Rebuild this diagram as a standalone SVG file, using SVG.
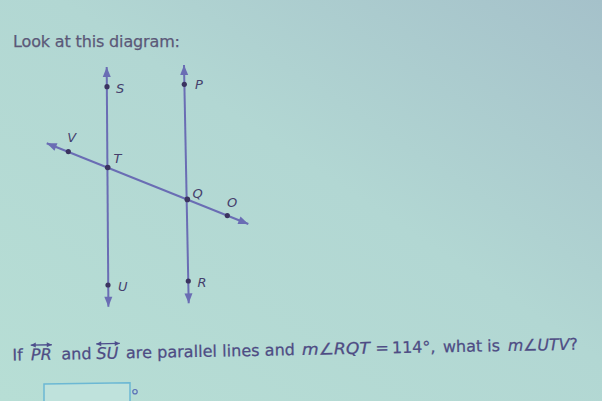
<svg xmlns="http://www.w3.org/2000/svg" width="602" height="401" viewBox="0 0 602 401">
<defs>
<linearGradient id="bg" x1="0" y1="1" x2="1" y2="0">
<stop offset="0" stop-color="#b7ded5"/>
<stop offset="0.55" stop-color="#b2d7d3"/>
<stop offset="1" stop-color="#a5c1ca"/>
</linearGradient>
<marker id="arrEnd" markerUnits="userSpaceOnUse" markerWidth="12" markerHeight="10" viewBox="0 0 12 10" refX="11" refY="5" orient="auto">
<path d="M1,1 L11,5 L1,9 z" fill="#6a6db4"/>
</marker>
<marker id="arrStart" markerUnits="userSpaceOnUse" markerWidth="12" markerHeight="10" viewBox="0 0 12 10" refX="1" refY="5" orient="auto">
<path d="M11,1 L1,5 L11,9 z" fill="#6a6db4"/>
</marker>
<marker id="smEnd" markerUnits="userSpaceOnUse" markerWidth="6" markerHeight="6" viewBox="0 0 6 6" refX="5.5" refY="3" orient="auto">
<path d="M0.5,0.5 L5.5,3 L0.5,5.5 z" fill="#4d4d8c"/>
</marker>
<marker id="smStart" markerUnits="userSpaceOnUse" markerWidth="6" markerHeight="6" viewBox="0 0 6 6" refX="0.5" refY="3" orient="auto">
<path d="M5.5,0.5 L0.5,3 L5.5,5.5 z" fill="#4d4d8c"/>
</marker>
</defs>
<style>
.line{stroke:#6a6db4;stroke-width:2;fill:none;marker-start:url(#arrStart);marker-end:url(#arrEnd)}
.dot{fill:#3b3360}
.lbl{font-family:"DejaVu Sans",sans-serif;font-style:italic;font-size:13px;fill:#453f6c}
.q{font-family:"DejaVu Sans",sans-serif;font-size:16px;fill:#4e4c84;stroke:#4e4c84;stroke-width:0.25}
.it{font-style:italic}
.over{stroke:#4d4d8c;stroke-width:1.3;marker-start:url(#smStart);marker-end:url(#smEnd)}
</style>
<rect width="602" height="401" fill="url(#bg)"/>
<g id="title">
<text x="13" y="46.5" font-family="DejaVu Sans, sans-serif" font-size="16" fill="#5b5878" stroke="#5b5878" stroke-width="0.25" textLength="167">Look at this diagram:</text>
</g>
<g id="connectors">
<line class="line" x1="106.7" y1="67" x2="108.4" y2="306.7"/>
<line class="line" x1="184" y1="65" x2="188.7" y2="303.3"/>
<line class="line" x1="46.7" y1="143.3" x2="248.3" y2="224"/>
</g>
<g id="S"><circle class="dot" cx="107" cy="86.7" r="2.6"/><text class="lbl" x="116" y="92.7">S</text></g>
<g id="P"><circle class="dot" cx="184.3" cy="84.3" r="2.6"/><text class="lbl" x="195" y="89">P</text></g>
<g id="V"><circle class="dot" cx="68.3" cy="151.6" r="2.6"/><text class="lbl" x="67.3" y="141.7">V</text></g>
<g id="T"><circle class="dot" cx="107.7" cy="167.5" r="2.8"/><text class="lbl" x="113.5" y="163">T</text></g>
<g id="Q"><circle class="dot" cx="187.3" cy="199.4" r="2.8"/><text class="lbl" x="192.5" y="197.5">Q</text></g>
<g id="O"><circle class="dot" cx="227.3" cy="215.6" r="2.6"/><text class="lbl" x="227" y="206.5">O</text></g>
<g id="U"><circle class="dot" cx="108" cy="285" r="2.6"/><text class="lbl" x="118" y="290.5">U</text></g>
<g id="R"><circle class="dot" cx="188.3" cy="281" r="2.6"/><text class="lbl" x="197.5" y="287">R</text></g>
<g id="question" transform="rotate(-1.1 300 355)">
<text class="q" x="12.5" y="355">If</text>
<line class="over" x1="31" y1="340" x2="52" y2="340"/>
<text class="q it" x="31" y="355">PR</text>
<text class="q" x="61.5" y="355">and</text>
<line class="over" x1="96.5" y1="340" x2="120" y2="340"/>
<text class="q it" x="96.5" y="355">SU</text>
<text class="q" x="126" y="355" textLength="169">are parallel lines and</text>
<text class="q" x="302" y="355" textLength="68" lengthAdjust="spacingAndGlyphs"><tspan class="it">m</tspan>∠<tspan class="it">RQT</tspan></text>
<text class="q" x="375.5" y="355">=</text>
<text class="q" x="392" y="355">114°,</text>
<text class="q" x="443" y="355">what is</text>
<text class="q" x="508" y="355" textLength="70" lengthAdjust="spacingAndGlyphs"><tspan class="it">m</tspan>∠<tspan class="it">UTV</tspan>?</text>
</g>
<g id="answer">
<path d="M44,401 L44,384 L130,382.7 L130,401" fill="#bfe2dc" stroke="#6cb8d4" stroke-width="1.5"/>
<circle cx="135" cy="391.7" r="2.2" fill="none" stroke="#5a6fb8" stroke-width="1.2"/>
</g>
</svg>
